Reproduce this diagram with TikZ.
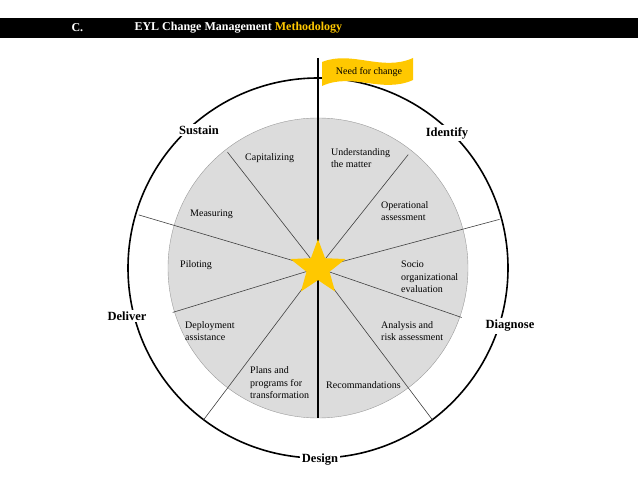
\documentclass[tikz,border=0pt]{standalone}
\usepackage{fontspec}
\setmainfont{Liberation Serif}
\usetikzlibrary{shapes.geometric}
\definecolor{gold}{HTML}{FFC800}
\definecolor{wedge}{HTML}{DCDCDC}
\begin{document}
\begin{tikzpicture}[x=1pt,y=-1pt,
  txt/.style={anchor=west,align=left,font=\fontsize{10}{12.5}\selectfont,inner sep=0pt},
  phase/.style={font=\fontsize{12.5}{14}\selectfont\bfseries,fill=white,inner sep=2pt},
  spoke/.style={draw=black!75,line width=0.6pt}]
\useasboundingbox (0,0) rectangle (638,478);
\fill[black] (0,18) rectangle (638,38);
\node[anchor=west,text=white,font=\fontsize{12}{14}\selectfont\bfseries] (c) at (68,28) {C.};
\node[anchor=west,text=white,font=\fontsize{12}{14}\selectfont\bfseries] (title) at (131,28) {EYL Change Management \textcolor{gold}{Methodology}};
\coordinate (o) at (318,268);
\draw[line width=1.6pt] (o) circle (190);
\fill[wedge,draw=black!40] (o) circle (150);
\foreach \a/\r in {-51.5/145, -15/188, 19/152, 53/190, 127/190, -197/152, -163.5/187, -128/147}
  \draw[spoke] (o) -- ++(\a:\r);
% flag
\fill[gold] (322,62) .. controls (352,50) and (382,72) .. (413,58) -- (413,80) .. controls (382,94) and (352,72) .. (322,86) -- cycle;
\node[font=\fontsize{10}{12}\selectfont] (flag) at (369,72) {Need for change};
\coordinate (pt) at (318,58);
\coordinate (pb) at (318,418);
\draw[line width=1.6pt] (pt) -- (pb);
\node[star,star points=5,star point ratio=2.4,fill=gold,minimum size=58pt,inner sep=0pt] (st) at (o) {};
% texts
\node[txt] (t1) at (331,158) {Understanding\\the matter};
\node[txt] (t2) at (381,211) {Operational\\assessment};
\node[txt] (t3) at (401,277) {Socio\\organizational\\evaluation};
\node[txt] (t4) at (381,331) {Analysis and\\risk assessment};
\node[txt] (t5) at (326,385) {Recommandations};
\node[txt] (t6) at (250,383) {Plans and\\programs for\\transformation};
\node[txt] (t7) at (185,331) {Deployment\\assistance};
\node[txt] (t8) at (180,265) {Piloting};
\node[txt] (t9) at (190,214) {Measuring};
\node[txt] (t10) at (245,158) {Capitalizing};
% phases
\node[phase] (p1) at (199,130) {Sustain};
\node[phase] (p2) at (447,133) {Identify};
\node[phase] (p3) at (127,316) {Deliver};
\node[phase] (p4) at (510,326) {Diagnose};
\node[phase] (p5) at (320,460) {Design};
\end{tikzpicture}
\end{document}
